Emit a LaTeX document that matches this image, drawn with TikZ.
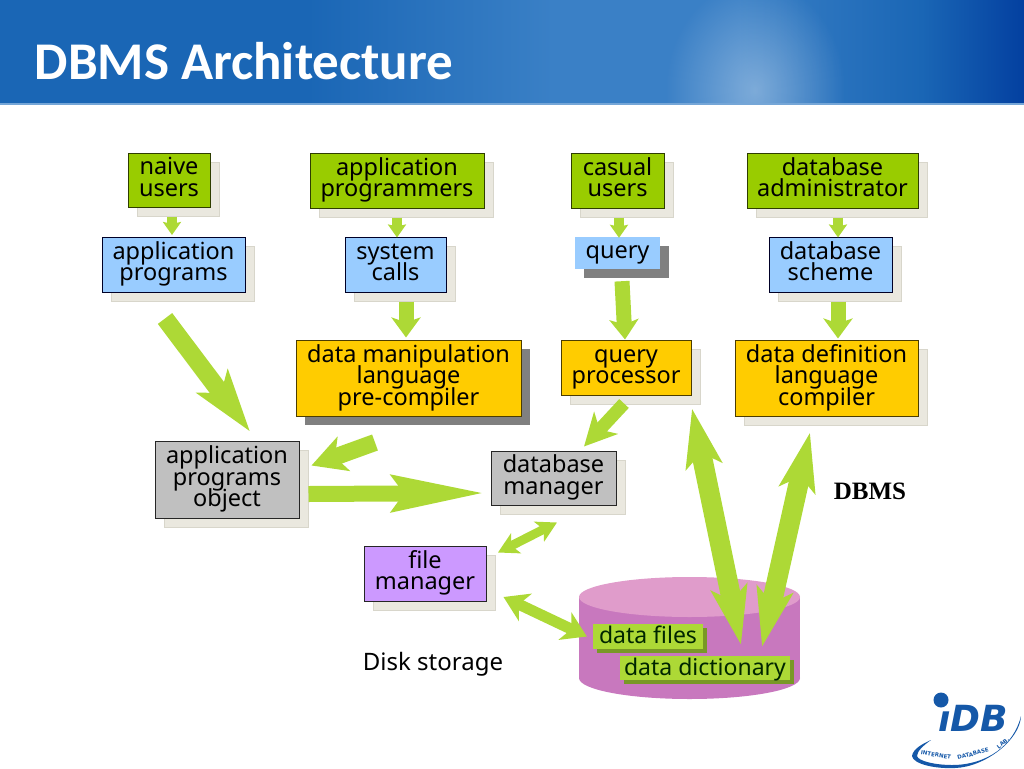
\documentclass[tikz,border=0pt]{standalone}
\usepackage{fontspec}
\setmainfont{Noto Sans}
\newfontfamily\titlefont{Carlito}
\newfontfamily\serifont{Liberation Serif}
\newfontfamily\logofont{DejaVu Sans}
\usetikzlibrary{arrows.meta,shadows,fadings}
\definecolor{headLeft}{HTML}{1A66B5}
\definecolor{headMid}{HTML}{3A80C6}
\definecolor{headRight}{HTML}{0340A0}
\definecolor{paleShadow}{HTML}{EAE8DF}
\definecolor{paleEdge}{HTML}{D8D6CB}
\definecolor{boxGreen}{HTML}{99CC00}
\definecolor{boxBlue}{HTML}{99CCFF}
\definecolor{boxAmber}{HTML}{FFCC00}
\definecolor{boxGrey}{HTML}{C0C0C0}
\definecolor{boxPurple}{HTML}{CC99FF}
\definecolor{arrowGreen}{HTML}{ADD936}
\definecolor{diskTop}{HTML}{E09CCB}
\definecolor{diskSide}{HTML}{C878BE}
\definecolor{logoBlue}{HTML}{1558A8}
\pgfdeclarehorizontalshading{headerShade}{100bp}{color(0bp)=(headLeft);
  color(40bp)=(headLeft); color(52bp)=(headMid); color(61bp)=(headMid);
  color(70bp)=(headLeft); color(75bp)=(headRight); color(100bp)=(headRight)}
\tikzfading[name=spotFade,inner color=transparent!65,outer color=transparent!100]
\newcommand{\boxfont}{\fontsize{23.5}{21.5}\selectfont}
\setlength{\lineskiplimit}{-50pt}
\begin{document}
\begin{tikzpicture}
[x=1pt,y=-1pt,
  boxDecorate/.style={shape=rectangle,inner sep=0pt,align=center,
    font=\boxfont,text=black},
  paleBox/.style={general shadow={shadow xshift=9pt,shadow yshift=-9pt,
    fill=paleShadow,draw=paleEdge,line width=0.8pt}},
  greyBox/.style={general shadow={shadow xshift=9pt,shadow yshift=-9pt,fill=black!50}},
  greenNode/.style={boxDecorate,paleBox,fill=boxGreen,draw=black!70!boxGreen,line width=1pt},
  blueNode/.style={boxDecorate,paleBox,fill=boxBlue,draw=black!85!blue,line width=1pt},
  queryNode/.style={boxDecorate,greyBox,fill=boxBlue},
  amberNode/.style={boxDecorate,paleBox,fill=boxAmber,draw=black!70!boxAmber,line width=1pt},
  dmlNode/.style={boxDecorate,greyBox,fill=boxAmber,draw=black!70!boxAmber,line width=1pt},
  greyNode/.style={boxDecorate,paleBox,fill=boxGrey,draw=black!85,line width=1pt},
  purpleNode/.style={boxDecorate,paleBox,fill=boxPurple,draw=black!85,line width=1pt},
  storeNode/.style={shape=rectangle,inner sep=0pt,fill=arrowGreen,
    font=\fontsize{23}{25}\selectfont,text=black!85!green,text height=18pt,text depth=4pt,
    general shadow={shadow xshift=4pt,shadow yshift=-4pt,fill=arrowGreen!70!black}},
  logoText/.style={text=logoBlue,inner sep=0pt,font=\logofont\bfseries\fontsize{5.5}{6}\selectfont},
  arrowTiny/.style={-{Stealth[length=13pt,width=18pt,inset=2pt]},line width=9.5pt,draw=arrowGreen},
  arrowSmall/.style={-{Stealth[length=20pt,width=29pt,inset=5pt]},line width=15pt,draw=arrowGreen},
  arrowLong/.style={-{Stealth[length=62pt,width=38pt,inset=14pt]},line width=18pt,draw=arrowGreen},
  arrowWide/.style={-{Stealth[length=34pt,width=36pt,inset=9pt]},line width=17pt,draw=arrowGreen},
  arrowQuery/.style={-{Stealth[length=32pt,width=32pt,inset=9pt]},line width=13pt,draw=arrowGreen},
  arrowFlat/.style={-{Stealth[length=92pt,width=35pt,inset=11pt]},line width=16pt,draw=arrowGreen},
  arrowBack/.style={{Stealth[length=24pt,width=30pt,inset=7pt]}-{Stealth[length=24pt,width=30pt,inset=7pt]},line width=11pt,draw=arrowGreen},
  arrowPair/.style={{Stealth[length=20pt,width=22pt,inset=5pt]}-{Stealth[length=20pt,width=22pt,inset=5pt]},line width=9pt,draw=arrowGreen},
  arrowTall/.style={{Stealth[length=58pt,width=36pt,inset=13pt]}-{Stealth[length=58pt,width=36pt,inset=13pt]},line width=20pt,draw=arrowGreen}]
\useasboundingbox (0,0) rectangle (1024,768);
%% header band
\shade[shading=headerShade] (0,0) rectangle (1024,103);
\begin{scope}
  \clip (0,0) rectangle (1024,103);
  \fill[white,path fading=spotFade] (755,90) ellipse (90 and 110);
\end{scope}
\fill[headMid!70!white] (0,103) rectangle (1024,105);
\node (title) at (244,61) [text=white,font=\titlefont\bfseries\fontsize{53}{54}\selectfont] {DBMS Architecture};
%% disk storage
\fill[diskSide] (579,597) rectangle (800,678);
\fill[diskSide] (689.5,678) ellipse (110.5 and 21);
\fill[diskTop] (689.5,597) ellipse (110.5 and 20);
%% nodes or vertices
\foreach \nodename/\x/\y/\boxw/\boxh/\kind/\lbl in {
  naive/169/180/82/54/greenNode/naive\\users,
  programmers/397/180.5/174/55/greenNode/application\\programmers,
  casual/617.5/180.5/93/55/greenNode/casual\\users,
  admin/832.5/180.5/171/55/greenNode/database\\administrator,
  programs/173.5/264.5/143/55/blueNode/application\\programs,
  syscalls/395.5/264.5/101/55/blueNode/system\\calls,
  query/617.5/253/85/32/queryNode/query,
  scheme/830.5/264.5/123/55/blueNode/database\\scheme,
  dml/408.5/378/225/76/dmlNode/data manipulation\\language\\pre-compiler,
  processor/626/367.5/130/55/amberNode/query\\processor,
  ddl/826.5/378/183/76/amberNode/data definition\\language\\compiler,
  object/227/479.5/144/77/greyNode/application\\programs\\object,
  dbmanager/553.5/478/125/54/greyNode/database\\manager,
  filemanager/425/573.5/122/55/purpleNode/file\\manager}
{
  \node (\nodename) at (\x,\y) [\kind,minimum width=\boxw pt,minimum height=\boxh pt]
    {\rule{0pt}{19pt}\lbl\rule[-8pt]{0pt}{8pt}};
}
\node (datafiles) at (648,636.5) [storeNode,minimum width=110pt,minimum height=25pt] {data files};
\node (dictionary) at (705,668) [storeNode,minimum width=170pt,minimum height=24pt] {data dictionary};
%% edges or lines
\foreach \startnode/\sx/\sy/\endnode/\ex/\ey/\kind in {
  naive.south/3/9/programs.north/-1.5/-1.5/arrowTiny,
  programmers.south/0/9/syscalls.north/1.5/1/arrowTiny,
  casual.south/1.5/9/query.north/1.5/1/arrowTiny,
  admin.south/5.5/9/scheme.north/7.5/1/arrowTiny,
  syscalls.south/10.5/9/dml.north/-2.5/-2/arrowSmall,
  query.south/4.5/12/processor.north/-1/0/arrowSmall,
  scheme.south/7.5/9/ddl.north/11.5/-1/arrowSmall,
  programs.south/-8.5/26/object.north/23/-9/arrowLong,
  dml.south/-33.5/26/object.east/12/-14/arrowWide,
  object.east/9/14.5/dbmanager.west/-5/15/arrowFlat,
  processor.south/-2/8/dbmanager.north/30.5/-4/arrowQuery,
  dbmanager.south/3.5/17/filemanager.north/73/7/arrowPair,
  filemanager.east/17/23.5/datafiles.west/-6/0/arrowBack,
  processor.south/66/13/dictionary.north/36/-11/arrowTall,
  ddl.south/-16.5/16/dictionary.north/57/-9/arrowTall}
{
  \draw[\kind] ([shift={(\sx,\sy)}]\startnode) -- ([shift={(\ex,\ey)}]\endnode);
}
%% free labels
\node (dbms) at (870,491) [font=\serifont\bfseries\fontsize{25}{26}\selectfont] {DBMS};
\node (disk) at (433,664) [font=\fontsize{24}{25}\selectfont] {Disk storage};
%% logo
\fill[logoBlue] (931,740) .. controls (922,744) and (913,749) .. (912,756)
  .. controls (913,764) and (935,769) .. (955,768)
  .. controls (985,767) and (1020,740) .. (1021,716)
  .. controls (1014,745) and (987,765) .. (952,765)
  .. controls (935,765) and (918,761) .. (917,756)
  .. controls (917,751) and (924,745) .. (931,740) -- cycle;
\node (logomark) at (973,718) [text=logoBlue,inner sep=0pt,font=\logofont\bfseries\itshape\fontsize{36}{37}\selectfont] {{\i}DB};
\fill[logoBlue] (941,700) circle (7.5);
\node (logoone) at (936,755) [logoText,rotate=-10] {INTERNET};
\node (logotwo) at (973,754) [logoText,rotate=14] {DATABASE};
\node (logothree) at (1003,743) [logoText,rotate=40] {LAB.};
\end{tikzpicture}
\end{document}
